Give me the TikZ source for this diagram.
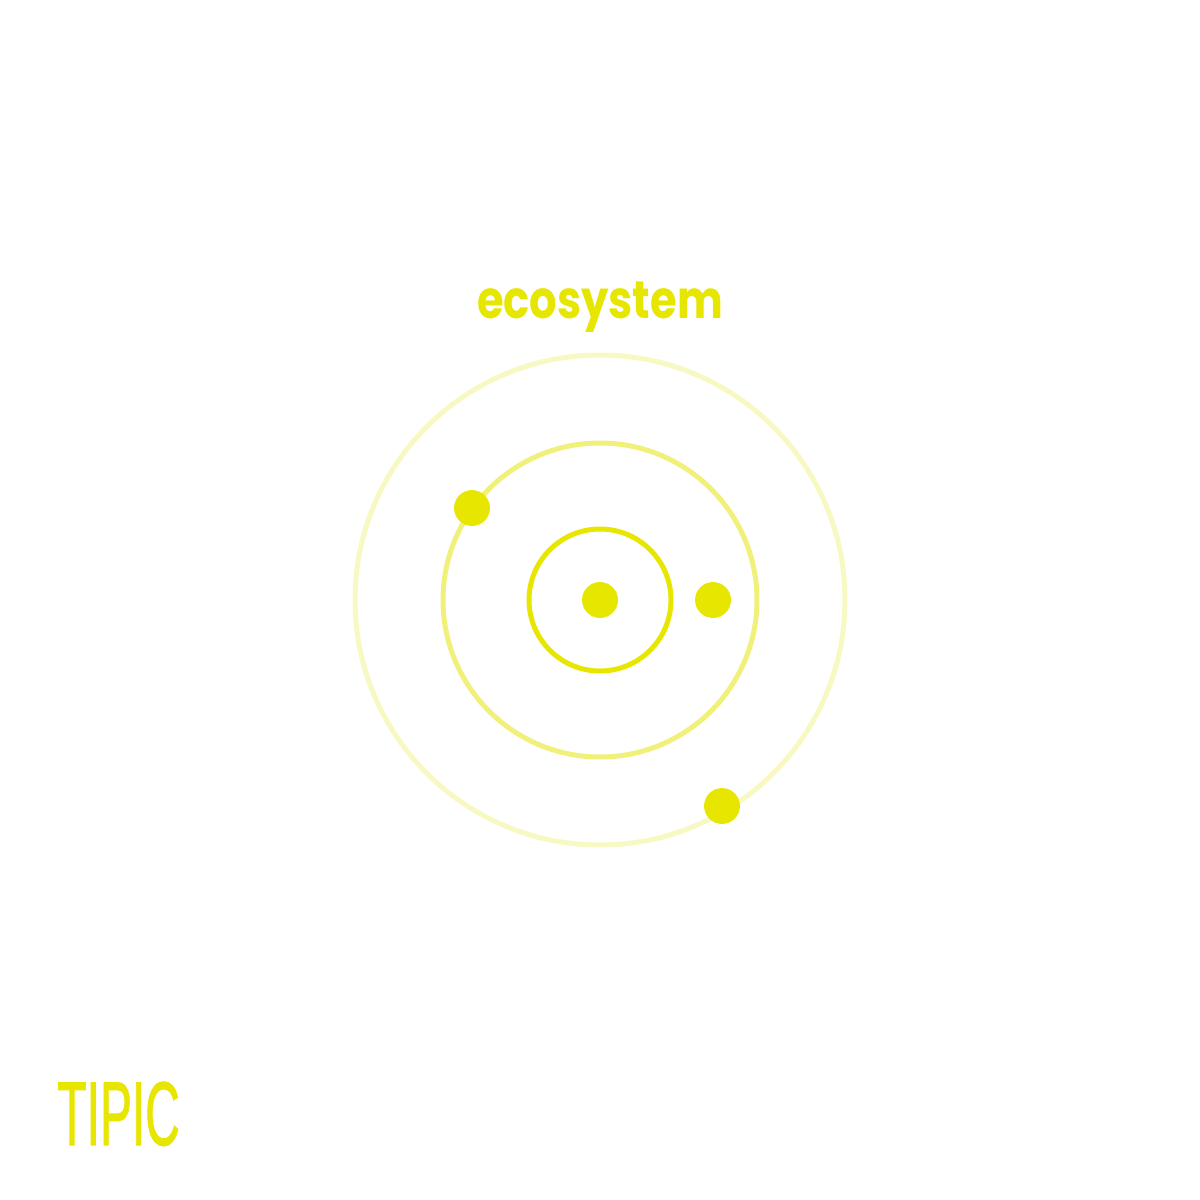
\documentclass[tikz,border=0pt]{standalone}
\usepackage{fontspec}
\newfontfamily\ecofont{Poppins}
\newfontfamily\tipicfont[FakeBold=1.5]{Liberation Sans}
\definecolor{ylw}{HTML}{E6E600}
\definecolor{ylwmid}{HTML}{F0F07A}
\definecolor{ylwlight}{HTML}{F8F8C2}
\begin{document}
\begin{tikzpicture}[x=0.01cm,y=-0.01cm,
  orbit/.style={draw=#1,line width=5*0.2835pt},
  body/.style={circle,fill=ylw,inner sep=0pt,minimum size=36*0.2835pt}]
\useasboundingbox (0,0) rectangle (1200,1200);
\draw[orbit=ylwlight] (600,600) circle (245);
\draw[orbit=ylwmid] (600,600) circle (157);
\draw[orbit=ylw] (600,600) circle (71);
\node[body] (core) at (600,600) {};
\node[body] (p1) at (713,600) {};
\node[body] (p2) at (472,508) {};
\node[body] (p3) at (722,806) {};
\node[anchor=base,text=ylw,xscale=0.82,font=\ecofont\bfseries\fontsize{15}{18}\selectfont] (title) at (600,318) {ecosystem};
\node[anchor=base west,inner sep=0pt,text=ylw,xscale=0.53,font=\tipicfont\fontsize{25.7}{30}\selectfont] (logo) at (57,1145) {TIPIC};
\end{tikzpicture}
\end{document}
